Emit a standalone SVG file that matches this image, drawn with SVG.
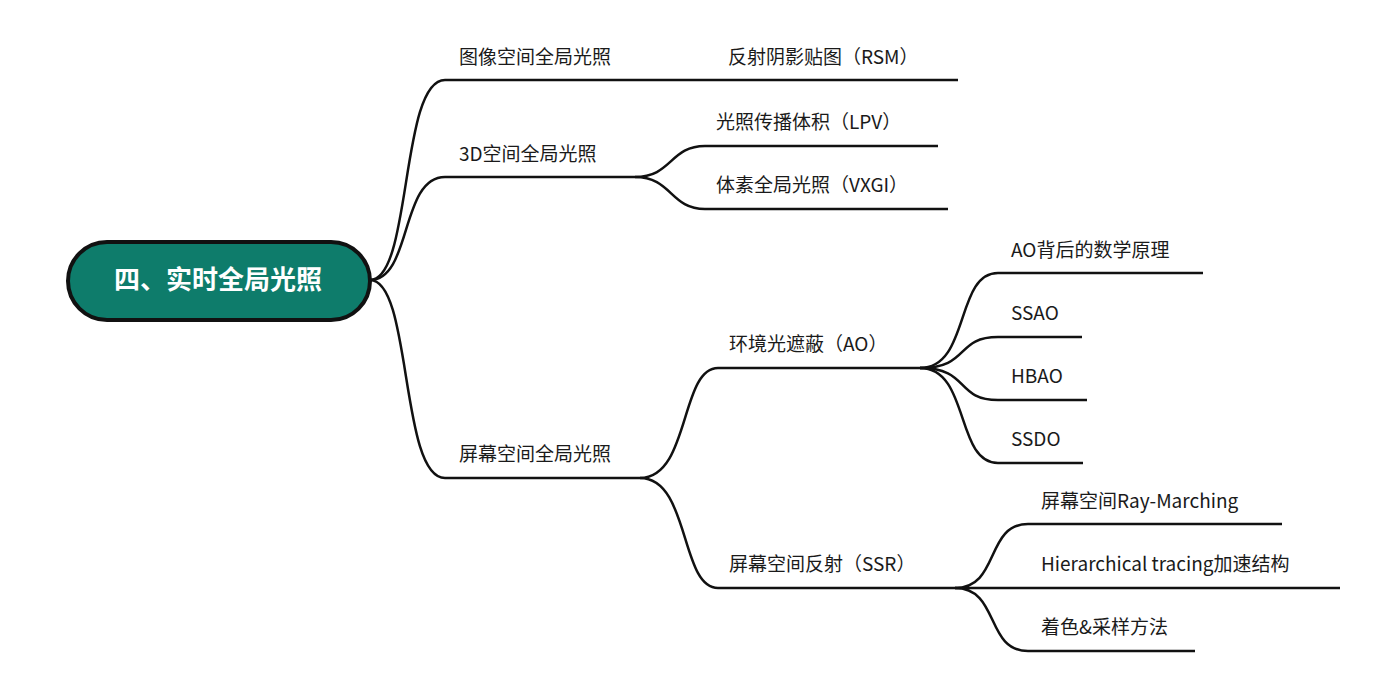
<svg xmlns="http://www.w3.org/2000/svg" width="1395" height="695" viewBox="0 0 1395 695">
<style>
.c{fill:none;stroke:#111;stroke-width:2.5}
.t{font-family:"Noto Sans CJK SC","Noto Sans",sans-serif;font-size:19px;fill:#1a1a1a}
</style>
<rect width="1395" height="695" fill="#fff"/>
<g id="connectors">
<path class="c" d="M370,280 C412,280 400,80 445,80 L958,80"/>
<path class="c" d="M370,280 C412,280 400,177 445,177 L635,177"/>
<path class="c" d="M370,280 C412,280 400,478 445,478 L640,478"/>
<path class="c" d="M635,177 C672,177 670,146 705,146 L938,146"/>
<path class="c" d="M635,177 C672,177 670,209 705,209 L948,209"/>
<path class="c" d="M640,478 C690,478 680,368 718,368 L920,368"/>
<path class="c" d="M640,478 C690,478 680,588 718,588 L955,588"/>
<path class="c" d="M920,368 C970,368 955,273 998,273 L1203,273"/>
<path class="c" d="M920,368 C970,368 955,337 998,337 L1082,337"/>
<path class="c" d="M920,368 C970,368 955,400 998,400 L1087,400"/>
<path class="c" d="M920,368 C970,368 955,463 998,463 L1083,463"/>
<path class="c" d="M955,588 C1000,588 985,524 1028,524 L1282,524"/>
<path class="c" d="M955,588 C1000,588 985,588 1028,588 L1340,588"/>
<path class="c" d="M955,588 C1000,588 985,651 1028,651 L1195,651"/>
</g>
<g id="root">
<rect x="68" y="242" width="302" height="78" rx="39" fill="#0e7c6b" stroke="#111" stroke-width="4"/>
<text x="218" y="289" text-anchor="middle" font-family="'Noto Sans CJK SC',sans-serif" font-size="26" font-weight="bold" fill="#fff">四、实时全局光照</text>
</g>
<g id="n1"><text class="t" x="459" y="64">图像空间全局光照</text></g>
<g id="n2"><text class="t" x="728" y="64">反射阴影贴图（RSM）</text></g>
<g id="n3"><text class="t" x="459" y="161">3D空间全局光照</text></g>
<g id="n4"><text class="t" x="716" y="129">光照传播体积（LPV）</text></g>
<g id="n5"><text class="t" x="716" y="192">体素全局光照（VXGI）</text></g>
<g id="n6"><text class="t" x="459" y="461">屏幕空间全局光照</text></g>
<g id="n7"><text class="t" x="729" y="351">环境光遮蔽（AO）</text></g>
<g id="n8"><text class="t" x="729" y="571">屏幕空间反射（SSR）</text></g>
<g id="n9"><text class="t" x="1011" y="257">AO背后的数学原理</text></g>
<g id="n10"><text class="t" x="1011" y="320">SSAO</text></g>
<g id="n11"><text class="t" x="1011" y="383">HBAO</text></g>
<g id="n12"><text class="t" x="1011" y="446">SSDO</text></g>
<g id="n13"><text class="t" x="1041" y="508">屏幕空间Ray-Marching</text></g>
<g id="n14"><text class="t" x="1041" y="571">Hierarchical tracing加速结构</text></g>
<g id="n15"><text class="t" x="1041" y="634">着色&amp;采样方法</text></g>
</svg>
